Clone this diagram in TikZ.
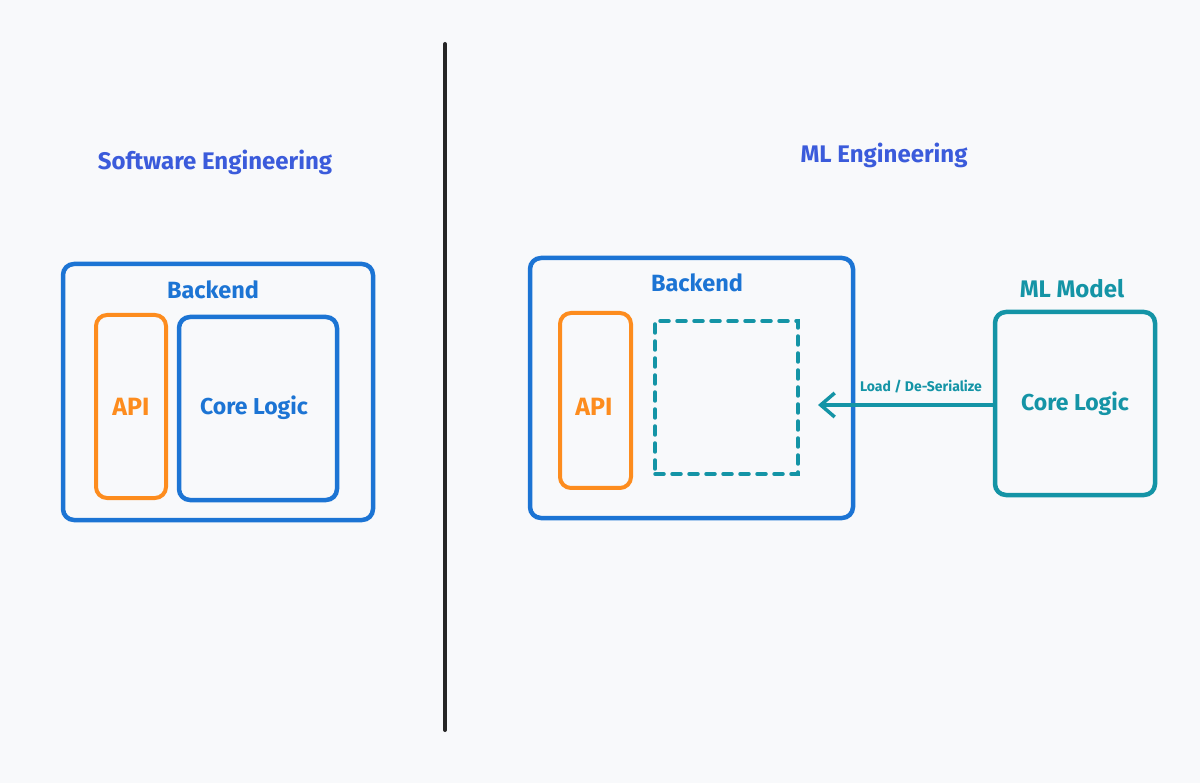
\documentclass[tikz,border=0pt]{standalone}
\usepackage{fontspec}
\setmainfont{Fira Sans}
\usetikzlibrary{arrows.meta}
\definecolor{bgc}{HTML}{F8F9FB}
\definecolor{titlec}{HTML}{3B5BDB}
\definecolor{bluec}{HTML}{1C74D4}
\definecolor{orangec}{HTML}{FD8C1E}
\definecolor{tealc}{HTML}{1494A6}
\tikzset{
  box/.style={draw, rounded corners=11pt, line width=4.5pt, minimum width=#1},
  lbl/.style={font=\bfseries\fontsize{#1}{#1}\selectfont, inner sep=0pt},
}
\begin{document}
\begin{tikzpicture}[x=1pt,y=-1pt]
\fill[bgc] (0,0) rectangle (1200,783);
\useasboundingbox (0,0) rectangle (1200,783);
% divider
\coordinate (dtop) at (445,44);
\coordinate (dbot) at (445,730);
\draw[line width=4pt, black!85, line cap=round] (dtop) -- (dbot);
% titles
\node[lbl=24, text=titlec] (tsw) at (215,162) {Software Engineering};
\node[lbl=24, text=titlec] (tml) at (884,155) {ML Engineering};
% left side
\node[box=310pt, minimum height=256pt, bluec] (lb) at (218,392) {};
\node[lbl=23.5, text=bluec] (lbt) at (213,290) {Backend};
\node[box=70pt, minimum height=183pt, orangec, line width=4pt] (lapi) at (131,406.5) {};
\node[lbl=25, text=orangec] at (lapi.center) {API};
\node[box=158pt, minimum height=183pt, bluec] (lcore) at (258,408.5) {};
\node[lbl=23, text=bluec] at (254,408) {Core Logic};
% right side
\node[box=323pt, minimum height=260pt, bluec] (rb) at (691.5,388) {};
\node[lbl=23.5, text=bluec] (rbt) at (697,283) {Backend};
\node[box=71pt, minimum height=175pt, orangec, line width=4pt] (rapi) at (595.5,400.5) {};
\node[lbl=25, text=orangec] at (594,407) {API};
\node[draw=tealc, line width=3.5pt, line cap=round, dash pattern=on 9pt off 8pt, minimum width=143pt, minimum height=153pt] (slot) at (726.5,397.5) {};
\node[box=160pt, minimum height=183pt, tealc] (ml) at (1075,403.5) {};
\node[lbl=23, text=tealc] at (ml.center) {Core Logic};
\node[lbl=24, text=tealc] (mlt) at (1072,289) {ML Model};
% arrow
\coordinate (tip) at (818,405);
\draw[tealc, line width=3.5pt, line cap=round, -{Straight Barb[length=14pt,width=24pt]}] (ml.west |- tip) -- (tip);
\node[lbl=14, text=tealc] (load) at (921,387) {Load / De-Serialize};
\end{tikzpicture}
\end{document}
